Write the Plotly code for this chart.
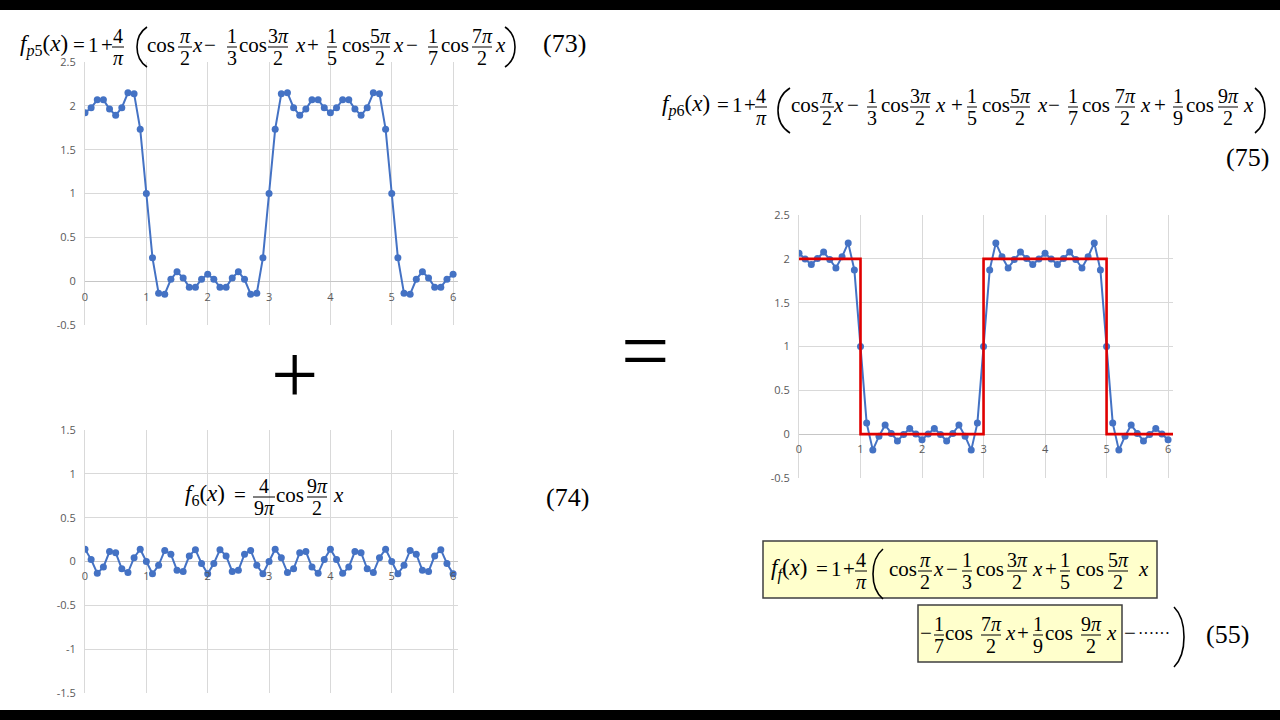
import plotly.graph_objects as go

W, H = 1280, 720

# ---------------- data ----------------
x_vals = [0.0, 0.1, 0.2, 0.3, 0.4, 0.5, 0.6, 0.7, 0.8, 0.9,
          1.0, 1.1, 1.2, 1.3, 1.4, 1.5, 1.6, 1.7, 1.8, 1.9,
          2.0, 2.1, 2.2, 2.3, 2.4, 2.5, 2.6, 2.7, 2.8, 2.9,
          3.0, 3.1, 3.2, 3.3, 3.4, 3.5, 3.6, 3.7, 3.8, 3.9,
          4.0, 4.1, 4.2, 4.3, 4.4, 4.5, 4.6, 4.7, 4.8, 4.9,
          5.0, 5.1, 5.2, 5.3, 5.4, 5.5, 5.6, 5.7, 5.8, 5.9, 6.0]

fp5_vals = [1.922, 1.977, 2.068, 2.068, 1.963, 1.892, 1.979, 2.149, 2.139, 1.734,
            1.000, 0.266, -0.139, -0.149, 0.021, 0.108, 0.037, -0.068, -0.068, 0.023,
            0.078, 0.023, -0.068, -0.068, 0.037, 0.108, 0.021, -0.149, -0.139, 0.266,
            1.000, 1.734, 2.139, 2.149, 1.979, 1.892, 1.963, 2.068, 2.068, 1.977,
            1.922, 1.977, 2.068, 2.068, 1.963, 1.892, 1.979, 2.149, 2.139, 1.734,
            1.000, 0.266, -0.139, -0.149, 0.021, 0.108, 0.037, -0.068, -0.068, 0.023, 0.078]

f6_vals = [0.141, 0.022, -0.135, -0.064, 0.114, 0.100, -0.083, -0.126, 0.044, 0.140,
           0.000, -0.140, -0.044, 0.126, 0.083, -0.100, -0.114, 0.064, 0.135, -0.022,
           -0.141, -0.022, 0.135, 0.064, -0.114, -0.100, 0.083, 0.126, -0.044, -0.140,
           0.000, 0.140, 0.044, -0.126, -0.083, 0.100, 0.114, -0.064, -0.135, 0.022,
           0.141, 0.022, -0.135, -0.064, 0.114, 0.100, -0.083, -0.126, 0.044, 0.140,
           0.000, -0.140, -0.044, 0.126, 0.083, -0.100, -0.114, 0.064, 0.135, -0.022, -0.141]

fp6_vals = [2.063, 1.999, 1.934, 2.004, 2.077, 1.992, 1.896, 2.023, 2.182, 1.874,
            1.000, 0.126, -0.182, -0.023, 0.104, 0.008, -0.077, -0.004, 0.066, 0.001,
            -0.063, 0.001, 0.066, -0.004, -0.077, 0.008, 0.104, -0.023, -0.182, 0.126,
            1.000, 1.874, 2.182, 2.023, 1.896, 1.992, 2.077, 2.004, 1.934, 1.999,
            2.063, 1.999, 1.934, 2.004, 2.077, 1.992, 1.896, 2.023, 2.182, 1.874,
            1.000, 0.126, -0.182, -0.023, 0.104, 0.008, -0.077, -0.004, 0.066, 0.001, -0.063]

square_x = [0, 1, 1, 3, 3, 5, 5, 6.1]
square_y = [2, 2, 0, 0, 2, 2, 0, 0]

x_tick_vals = [0, 1, 2, 3, 4, 5, 6]
x_tick_text = ["0", "1", "2", "3", "4", "5", "6"]
y_ticks_top = [-0.5, 0, 0.5, 1, 1.5, 2, 2.5]
y_text_top = ["-0.5", "0", "0.5", "1", "1.5", "2", "2.5"]
y_ticks_bot = [-1.5, -1, -0.5, 0, 0.5, 1, 1.5]
y_text_bot = ["-1.5", "-1", "-0.5", "0", "0.5", "1", "1.5"]

# ---------------- styling ----------------
BLUE = "#4472C4"
RED = "#E00000"
GRID = "#D9D9D9"
ZERO = "#C6C6C6"
SERIF = "Liberation Serif"
TICKFONT = dict(family="Open Sans", size=11, color="#595959")
PI = "<i>π</i>"
X = "<i>x</i>"


def fx(p):
    return p / W


def fy(p):
    return 1 - p / H


fig = go.Figure()
line_style = dict(color=BLUE, width=2)
marker_style = dict(size=7, color=BLUE)
fig.add_trace(go.Scatter(x=x_vals, y=fp5_vals, mode="lines+markers", line=line_style,
                         marker=marker_style, xaxis="x", yaxis="y", hoverinfo="skip"))
fig.add_trace(go.Scatter(x=x_vals, y=f6_vals, mode="lines+markers", line=line_style,
                         marker=marker_style, xaxis="x2", yaxis="y2", hoverinfo="skip"))
fig.add_trace(go.Scatter(x=x_vals, y=fp6_vals, mode="lines+markers", line=line_style,
                         marker=marker_style, xaxis="x3", yaxis="y3", hoverinfo="skip"))
fig.add_trace(go.Scatter(x=square_x, y=square_y, mode="lines", line=dict(color=RED, width=2.6),
                         xaxis="x3", yaxis="y3", hoverinfo="skip"))


def xaxis_def(left_px, right_px, zero_py):
    return dict(domain=[fx(left_px), fx(right_px)], range=[0, 6.08], anchor="free",
                position=fy(zero_py), tickvals=x_tick_vals, ticktext=x_tick_text,
                showgrid=True, gridcolor=GRID, gridwidth=1, zeroline=False, showline=False,
                ticks="outside", ticklen=4, tickcolor="rgba(0,0,0,0)", tickfont=TICKFONT,
                fixedrange=True, automargin=False)


def yaxis_def(top_py, bot_py, rng, tv, tt, xname):
    return dict(domain=[fy(bot_py), fy(top_py)], range=rng, anchor=xname, tickvals=tv,
                ticktext=tt, showgrid=True, gridcolor=GRID, gridwidth=1, zeroline=True,
                zerolinecolor=ZERO, zerolinewidth=1, showline=True, linecolor=GRID,
                linewidth=1, ticks="outside", ticklen=6, tickcolor="rgba(0,0,0,0)",
                tickfont=TICKFONT, fixedrange=True, automargin=False)


fig.update_layout(
    xaxis=xaxis_def(85, 458, 283),
    yaxis=yaxis_def(62, 325, [-0.5, 2.5], y_ticks_top, y_text_top, "x"),
    xaxis2=xaxis_def(85, 458, 562),
    yaxis2=yaxis_def(430, 693, [-1.5, 1.5], y_ticks_bot, y_text_bot, "x2"),
    xaxis3=xaxis_def(799, 1173, 435),
    yaxis3=yaxis_def(215, 478, [-0.5, 2.5], y_ticks_top, y_text_top, "x3"),
)

annotations = []
shapes = []


def txt(x, y, s, size=21, anchor="center", family=SERIF):
    annotations.append(dict(x=fx(x), y=fy(y), xref="paper", yref="paper", text=s,
                            showarrow=False, xanchor=anchor, yanchor="middle",
                            font=dict(family=family, size=size, color="black")))


def hline(x0, x1, y, width=1.0, color="black"):
    shapes.append(dict(type="line", xref="paper", yref="paper", x0=fx(x0), x1=fx(x1),
                       y0=fy(y), y1=fy(y), line=dict(color=color, width=width), layer="above"))


def paren(xl, xr, top, bot, side):
    if side == "l":
        xe, xm = xr, xl
    else:
        xe, xm = xl, xr
    xc = xe + (xm - xe) * 4 / 3
    h = bot - top
    path = (f"M {fx(xe)} {fy(top)} C {fx(xc)} {fy(top + h * 0.22)} "
            f"{fx(xc)} {fy(top + h * 0.78)} {fx(xe)} {fy(bot)}")
    shapes.append(dict(type="path", xref="paper", yref="paper", path=path,
                       line=dict(color="black", width=1.6), layer="above"))


def formula(base, tokens, size=21, fsize=20):
    for t in tokens:
        kind = t[0]
        if kind == "R":
            txt(t[1], base - 2, t[2], 23, anchor="right")
        elif kind == "T":
            txt(t[1], base - 2, t[2], size)
        elif kind == "F":
            cx, num, den, hw = t[1], t[2], t[3], t[4]
            txt(cx, base - 11, num, fsize)
            txt(cx, base + 11, den, fsize)
            hline(cx - hw, cx + hw, base, 1.0)
        elif kind == "P":
            paren(t[1], t[2], t[3], t[4], t[5])


# black bands
shapes.append(dict(type="rect", xref="paper", yref="paper", x0=0, x1=1, y0=fy(10), y1=1,
                   fillcolor="black", line=dict(width=0), layer="above"))
shapes.append(dict(type="rect", xref="paper", yref="paper", x0=0, x1=1, y0=0, y1=fy(710),
                   fillcolor="black", line=dict(width=0), layer="above"))

# yellow boxes
shapes.append(dict(type="rect", xref="paper", yref="paper", x0=fx(763), x1=fx(1157),
                   y0=fy(598), y1=fy(541), fillcolor="#FFFFCC",
                   line=dict(color="#3F3F3F", width=1.5), layer="below"))
shapes.append(dict(type="rect", xref="paper", yref="paper", x0=fx(918), x1=fx(1122),
                   y0=fy(662), y1=fy(605), fillcolor="#FFFFCC",
                   line=dict(color="#3F3F3F", width=1.5), layer="below"))

# (73)
formula(47, [
    ("R", 70, "<i>f</i><sub><i>p</i>5</sub>(<i>x</i>)"),
    ("T", 79, "="), ("T", 93, "1"), ("T", 107, "+"), ("F", 118, "4", PI, 6),
    ("P", 137, 147, 27, 67, "l"),
    ("T", 161, "cos"), ("F", 185, PI, "2", 7), ("T", 197, X), ("T", 210, "−"),
    ("F", 232, "1", "3", 5), ("T", 253, "cos"), ("F", 278, "3" + PI, "2", 10), ("T", 300, X),
    ("T", 313, "+"), ("F", 332, "1", "5", 5), ("T", 356, "cos"), ("F", 380, "5" + PI, "2", 10),
    ("T", 398, X), ("T", 412, "−"), ("F", 433, "1", "7", 5), ("T", 455, "cos"),
    ("F", 482, "7" + PI, "2", 10), ("T", 500, X),
    ("P", 505, 515, 27, 67, "r"),
])
txt(564, 43, "(73)", 26)

# (75)
formula(107, [
    ("R", 712, "<i>f</i><sub><i>p</i>6</sub>(<i>x</i>)"),
    ("T", 723, "="), ("T", 737, "1"), ("T", 750, "+"), ("F", 761, "4", PI, 6),
    ("P", 778, 790, 88, 133, "l"),
    ("T", 805, "cos"), ("F", 827, PI, "2", 7), ("T", 838, X), ("T", 853, "−"),
    ("F", 872, "1", "3", 5), ("T", 895, "cos"), ("F", 920, "3" + PI, "2", 10), ("T", 940, X),
    ("T", 957, "+"), ("F", 972, "1", "5", 5), ("T", 996, "cos"), ("F", 1020, "5" + PI, "2", 10),
    ("T", 1042, X), ("T", 1054, "−"), ("F", 1073, "1", "7", 5), ("T", 1096, "cos"),
    ("F", 1125, "7" + PI, "2", 10), ("T", 1145, X), ("T", 1160, "+"),
    ("F", 1178, "1", "9", 5), ("T", 1200, "cos"), ("F", 1228, "9" + PI, "2", 10),
    ("T", 1248, X),
    ("P", 1255, 1265, 88, 133, "r"),
])
txt(1247, 157, "(75)", 26)

# (74)
formula(497, [
    ("R", 227, "<i>f</i><sub>6</sub>(<i>x</i>)"),
    ("T", 240, "="), ("F", 264, "4", "9" + PI, 11), ("T", 290, "cos"),
    ("F", 317, "9" + PI, "2", 10), ("T", 338, X),
])
txt(567, 497, "(74)", 26)

# (55) boxed, line 1
formula(571, [
    ("R", 809, "<i>f</i><sub><i>f</i></sub>(<i>x</i>)"),
    ("T", 822, "="), ("T", 836, "1"), ("T", 849, "+"), ("F", 861, "4", PI, 6),
    ("P", 873, 883, 549, 599, "l"),
    ("T", 903, "cos"), ("F", 925, PI, "2", 7), ("T", 938, X), ("T", 952, "−"),
    ("F", 967, "1", "3", 5), ("T", 990, "cos"), ("F", 1017, "3" + PI, "2", 10), ("T", 1037, X),
    ("T", 1051, "+"), ("F", 1065, "1", "5", 5), ("T", 1090, "cos"),
    ("F", 1118, "5" + PI, "2", 10), ("T", 1143, X),
])
# line 2
formula(635, [
    ("T", 926, "−"), ("F", 939, "1", "7", 5), ("T", 959, "cos"), ("F", 991, "7" + PI, "2", 10),
    ("T", 1010, X), ("T", 1023, "+"), ("F", 1038, "1", "9", 5), ("T", 1059, "cos"),
    ("F", 1091, "9" + PI, "2", 10), ("T", 1111, X), ("T", 1130, "−"),
    ("P", 1174, 1184, 607, 667, "r"),
])
txt(1154, 633, "······", 16)
txt(1227, 634, "(55)", 26)

# big operators
txt(294, 374, "+", 84)
txt(645, 351, "=", 86)

fig.update_layout(width=W, height=H,
                  margin=dict(l=0, r=0, t=0, b=0, pad=0, autoexpand=False),
                  paper_bgcolor="white", plot_bgcolor="rgba(0,0,0,0)", showlegend=False,
                  annotations=annotations, shapes=shapes)

fig.write_html("out.html", config={"displayModeBar": False, "staticPlot": True},
               post_script="document.body.style.margin='0px';"
                           "document.body.style.overflow='hidden';")
